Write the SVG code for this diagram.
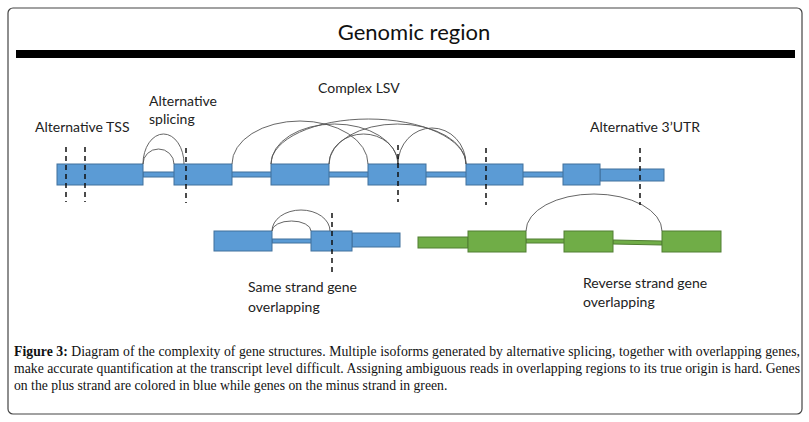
<svg xmlns="http://www.w3.org/2000/svg" width="809" height="422" viewBox="0 0 809 422">
<defs>
<style>
.lbl{font-family:Lato,"Open Sans","Liberation Sans",sans-serif;font-size:14px;fill:#222}
.title{font-family:Lato,"Open Sans","Liberation Sans",sans-serif;font-size:22px;fill:#111}
.cap{font-family:"Liberation Serif","DejaVu Serif",serif;font-size:13.7px;fill:#111}
.b{fill:#5B9BD5;stroke:#41719C;stroke-width:1}
.g{fill:#70AD47;stroke:#507E32;stroke-width:1}
.arc{fill:none;stroke:#555;stroke-width:0.9}
.dash{stroke:#111;stroke-width:1.5;stroke-dasharray:5 4;fill:none}
</style>
</defs>
<rect x="0" y="0" width="809" height="422" fill="#fff"/>
<rect x="8" y="8" width="794" height="406" rx="5" fill="none" stroke="#444" stroke-width="1.2"/>
<text class="title" x="414" y="40" text-anchor="middle">Genomic region</text>
<rect x="16" y="50" width="779" height="8" fill="#000"/>
<text class="lbl" x="318" y="93">Complex LSV</text>
<text class="lbl" x="149" y="106">Alternative</text>
<text class="lbl" x="149" y="124">splicing</text>
<text class="lbl" x="35" y="132">Alternative TSS</text>
<text class="lbl" x="590" y="132">Alternative 3’UTR</text>

<g id="gene-main">
<rect class="b" x="143" y="172" width="422" height="5"/>
<rect class="b" x="57" y="164" width="86" height="21"/>
<rect class="b" x="174" y="164" width="58" height="21"/>
<rect class="b" x="271" y="164" width="58" height="21"/>
<rect class="b" x="368" y="164" width="58" height="21"/>
<rect class="b" x="466" y="164" width="57" height="21"/>
<rect class="b" x="600" y="169" width="64" height="12"/>
<rect class="b" x="563" y="164" width="37" height="21"/>
</g>

<g id="gene-same">
<rect class="b" x="272" y="239" width="40" height="4"/>
<rect class="b" x="214" y="231" width="58" height="20"/>
<rect class="b" x="352" y="233" width="48" height="14"/>
<rect class="b" x="311" y="231" width="41" height="20"/>
</g>

<g id="gene-reverse">
<rect class="g" x="526" y="239" width="40" height="4"/>
<path class="g" d="M613 240 L662 241 L662 245 L613 244 Z"/>
<rect class="g" x="418" y="237" width="50" height="11"/>
<rect class="g" x="468" y="231" width="58" height="21"/>
<rect class="g" x="564" y="231" width="49" height="21"/>
<rect class="g" x="662" y="231" width="59" height="21"/>
</g>

<g id="connectors">
<path class="arc" d="M143 164 A20.5 30 0 0 1 184 164"/>
<path class="arc" d="M143 164 A15.5 15 0 0 1 174 164"/>
<path class="arc" d="M232 164 A68 43 0 0 1 368 164"/>
<path class="arc" d="M271 164 A97.5 45 0 0 1 466 164"/>
<path class="arc" d="M271 164 A63.5 40 0 0 1 398 164"/>
<path class="arc" d="M329 164 A34.5 30 0 0 1 398 164"/>
<path class="arc" d="M329 164 A68.5 40 0 0 1 466 164"/>
<path class="arc" d="M398 164 A34 36 0 0 1 466 164"/>
<path class="arc" d="M272 231 A29 21 0 0 1 330 231"/>
<path class="arc" d="M272 231 A19.5 10 0 0 1 311 231"/>
<path class="arc" d="M526 231 A68 37 0 0 1 662 231"/>
</g>

<g id="markers">
<line class="dash" x1="66" y1="147" x2="66" y2="202"/>
<line class="dash" x1="85" y1="147" x2="85" y2="202"/>
<line class="dash" x1="186" y1="148" x2="186" y2="203"/>
<line class="dash" x1="398" y1="145" x2="398" y2="202"/>
<line class="dash" x1="486" y1="148" x2="486" y2="205"/>
<line class="dash" x1="640" y1="148" x2="640" y2="205"/>
<line class="dash" x1="332" y1="213" x2="332" y2="272"/>
</g>

<text class="lbl" x="248" y="292">Same strand gene</text>
<text class="lbl" x="248" y="312">overlapping</text>
<text class="lbl" x="583" y="288">Reverse strand gene</text>
<text class="lbl" x="583" y="307">overlapping</text>

<text class="cap" x="14" y="356" textLength="786" lengthAdjust="spacing"><tspan font-weight="bold">Figure 3:</tspan> Diagram of the complexity of gene structures. Multiple isoforms generated by alternative splicing, together with overlapping genes,</text>
<text class="cap" x="14" y="373" textLength="786" lengthAdjust="spacing">make accurate quantification at the transcript level difficult. Assigning ambiguous reads in overlapping regions to its true origin is hard. Genes</text>
<text class="cap" x="14" y="390">on the plus strand are colored in blue while genes on the minus strand in green.</text>
</svg>
